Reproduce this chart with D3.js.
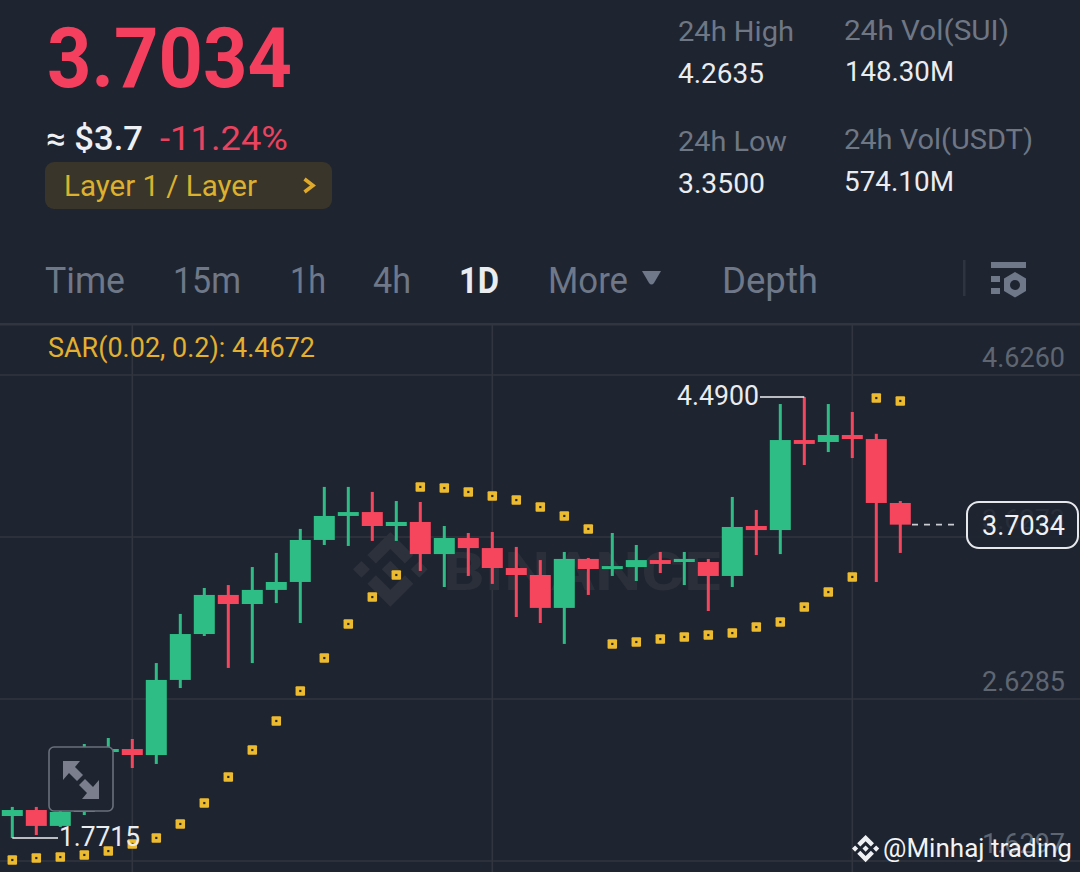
<!DOCTYPE html>
<html><head><meta charset="utf-8">
<script src="https://cdn.jsdelivr.net/npm/d3@7/dist/d3.min.js"></script>
<style>html,body{margin:0;padding:0;background:#1e2430;overflow:hidden}svg{display:block}text{font-family:Roboto,"Noto Sans",sans-serif}</style>
</head><body><svg id="c" width="1080" height="872"></svg>
<script>
const opens=[1.907,1.944,1.846,1.932,2.302,2.320,2.283,2.746,3.029,3.270,3.214,3.301,3.350,3.609,3.757,3.781,3.695,3.720,3.522,3.621,3.559,3.436,3.393,3.190,3.492,3.430,3.442,3.485,3.473,3.473,3.387,3.695,3.670,4.225,4.213,4.256,4.231,3.837];
const highs=[1.963,1.963,1.957,2.351,2.388,2.382,2.850,3.153,3.313,3.331,3.442,3.529,3.677,3.936,3.936,3.905,3.849,3.843,3.695,3.652,3.658,3.566,3.485,3.535,3.498,3.652,3.578,3.535,3.535,3.492,3.874,3.794,4.447,4.490,4.447,4.398,4.2635,3.849];
const lows=[1.7715,1.790,1.840,1.913,2.252,2.203,2.228,2.696,3.017,2.820,2.850,3.220,3.097,3.578,3.572,3.603,3.603,3.418,3.319,3.387,3.338,3.134,3.097,2.968,3.270,3.387,3.356,3.405,3.331,3.171,3.319,3.516,3.522,4.071,4.151,4.114,3.350,3.529];
const closes=[1.944,1.846,1.932,2.302,2.320,2.283,2.746,3.029,3.270,3.214,3.301,3.350,3.609,3.757,3.781,3.695,3.720,3.522,3.621,3.559,3.436,3.393,3.190,3.492,3.430,3.448,3.485,3.461,3.492,3.387,3.689,3.670,4.225,4.201,4.256,4.231,3.837,3.7034];
const sar=[1.636,1.648,1.654,1.667,1.691,1.735,1.772,1.858,1.987,2.148,2.314,2.493,2.678,2.881,3.091,3.257,3.393,3.936,3.929,3.905,3.880,3.855,3.812,3.757,3.677,2.968,2.980,2.998,3.011,3.023,3.035,3.072,3.103,3.196,3.288,3.381,4.484,4.466];
const priceTicks=[4.6260,3.6273,2.6285,1.6297];
const timeGrid=[5,20,35];
const tabs=[["Time",45,80,"#6f7888",400],["15m",173,68,"#6f7888",400],["1h",290,36,"#6f7888",400],["4h",373,38,"#6f7888",400],["1D",459,40,"#eaecef",700],["More",548,80,"#6f7888",400],["Depth",722,96,"#6f7888",400]];

const BG="#1e2430",GREEN="#2ebd85",RED="#f6465d",GRID="#30353f",YEL="#ecbb30";
const svg=d3.select("#c");
const x=d3.scaleLinear().domain([0,37]).range([12.3,900.3]);
const y=d3.scaleLinear().domain([4.6260,1.6297]).range([375,861]);

function t(s,xp,yb,size,fill,w,len){
  const e=svg.append("text").attr("x",xp).attr("y",yb).attr("font-size",size).attr("fill",fill).attr("font-weight",w||400).text(s);
  if(len) e.attr("textLength",len).attr("lengthAdjust","spacingAndGlyphs");
  return e;
}
svg.append("rect").attr("width",1080).attr("height",872).attr("fill",BG);

// header
t("3.7034",47,87,84,"#f4405e",700,245);
t("≈ $3.7",46,150,33,"#eef0f3",500,97);
t("-11.24%",160,150,33,"#e8435f",400,128);
svg.append("rect").attr("x",45).attr("y",162).attr("width",287).attr("height",47).attr("rx",9).attr("fill","#39352a");
t("Layer 1 / Layer",64,196,29,"#dcb12e",400,193);
svg.append("path").attr("d","M304.5 179 L313 185.5 L304.5 192").attr("fill","none").attr("stroke","#dfa92a").attr("stroke-width",3.6);
t("24h High",678,41,28,"#6f7785",400,116);
t("4.2635",678,83,28,"#eaecef",400,86);
t("24h Low",678,151,28,"#6f7785",400,109);
t("3.3500",678,193,28,"#eaecef",400,87);
t("24h Vol(SUI)",844,40,28,"#6f7785",400,165);
t("148.30M",845,81,28,"#eaecef",400,109);
t("24h Vol(USDT)",844,149,28,"#6f7785",400,189);
t("574.10M",844,191,28,"#eaecef",400,110);

// tabs
tabs.forEach(d=>t(d[0],d[1],293,36,d[3],d[4],d[2]));
svg.append("path").attr("d","M642 271 H661 L654 283 Q651.5 286 649 283 Z").attr("fill","#6f7888");
svg.append("rect").attr("x",963).attr("y",260).attr("width",2.5).attr("height",36).attr("fill","#2f3540");
const ic=svg.append("g").attr("fill","#6f7888");
ic.append("rect").attr("x",991).attr("y",262).attr("width",35).attr("height",6);
ic.append("rect").attr("x",991).attr("y",276).attr("width",9).attr("height",6);
ic.append("rect").attr("x",991).attr("y",288).attr("width",9).attr("height",6);
ic.append("path").attr("d","M1015 272 L1026 278.5 V291 L1015 297.5 L1004 291 V278.5 Z");
svg.append("circle").attr("cx",1015).attr("cy",285).attr("r",5).attr("fill",BG);
svg.append("rect").attr("x",0).attr("y",323).attr("width",1080).attr("height",2.5).attr("fill",GRID);

// grid
svg.append("g").selectAll("line").data(priceTicks).join("line")
  .attr("x1",0).attr("x2",1080).attr("y1",d=>y(d)).attr("y2",d=>y(d)).attr("stroke",GRID).attr("stroke-width",1.6);
svg.append("g").selectAll("line").data(timeGrid).join("line")
  .attr("x1",d=>x(d)).attr("x2",d=>x(d)).attr("y1",325).attr("y2",872).attr("stroke",GRID).attr("stroke-width",1.6);

// watermark
const LOGO="M38.73 53.2l24.59-24.58 24.6 24.6 14.3-14.31L63.32 0 24.43 38.9zM0 63.31l14.3-14.31 14.31 14.31-14.31 14.3zM38.73 73.41l24.59 24.59 24.6-24.6 14.31 14.29-38.9 38.91-38.91-38.88-.02-.02zM98 63.31l14.3-14.31 14.31 14.3-14.31 14.32zM77.83 63.3L63.32 48.78 52.59 59.51l-1.24 1.23-2.54 2.54 14.51 14.5 14.51-14.47z";
svg.append("path").attr("d",LOGO).attr("transform","translate(353,532) scale(0.59)").attr("fill","#2c313c");
t("BINANCE",443,590,54,"#2a2f3a",700,278);

// axis labels
const axis=d3.axisLeft(y).tickValues(priceTicks).tickFormat(d3.format(".4f")).tickSize(0).tickPadding(0);
const ag=svg.append("g").attr("transform","translate(1065,0)").call(axis);
ag.select(".domain").remove();
ag.selectAll("text").attr("y",-19).attr("dy","0.36em").attr("font-size",28).attr("fill","#5f6672")
  .attr("textLength",83).attr("lengthAdjust","spacingAndGlyphs").style("font-family","Roboto,sans-serif");

// candles
const idx=d3.range(opens.length);
const cg=svg.append("g");
cg.selectAll("rect.w").data(idx).join("rect").attr("class","w")
  .attr("x",i=>x(i)-1.5).attr("width",3)
  .attr("y",i=>y(highs[i])).attr("height",i=>y(lows[i])-y(highs[i]))
  .attr("fill",i=>closes[i]>=opens[i]?GREEN:RED);
cg.selectAll("rect.b").data(idx).join("rect").attr("class","b")
  .attr("x",i=>x(i)-10.5).attr("width",21)
  .attr("y",i=>y(Math.max(opens[i],closes[i])))
  .attr("height",i=>Math.max(3,Math.abs(y(opens[i])-y(closes[i]))))
  .attr("fill",i=>closes[i]>=opens[i]?GREEN:RED);

// SAR
const sg=svg.append("g");
sg.selectAll("rect.s").data(idx).join("rect").attr("class","s")
  .attr("x",i=>x(i)-4.75).attr("y",i=>y(sar[i])-4.75).attr("width",9.5).attr("height",9.5).attr("rx",1).attr("fill",YEL);
sg.selectAll("rect.h").data(idx).join("rect").attr("class","h")
  .attr("x",i=>x(i)-1.1).attr("y",i=>y(sar[i])-1.1).attr("width",2.2).attr("height",2.2).attr("fill","#2a2a25");

t("SAR(0.02, 0.2): 4.4672",48,357,28,"#e3b02f",400,267);

// hi / lo annotations
svg.append("path").attr("d",`M760 ${y(4.49)}H${x(33)}`).attr("stroke","#eef0f3").attr("stroke-width",1.6);
t("4.4900",677,405,28,"#eaecef",400,82);
svg.append("path").attr("d",`M${x(0)} ${y(1.7715)}H58`).attr("stroke","#eef0f3").attr("stroke-width",1.6);
t("1.7715",59,846,28,"#eaecef",400,81);

// last price
svg.append("path").attr("d",`M912 ${y(3.7034)}H955`).attr("stroke","#c9ccd2").attr("stroke-width",1.6).attr("stroke-dasharray","6 6");
svg.append("rect").attr("x",967).attr("y",502).attr("width",111).attr("height",46).attr("rx",12).attr("fill",BG).attr("fill-opacity",0.85).attr("stroke","#e6e8ec").attr("stroke-width",2);
t("3.7034",982,535,28,"#f0f1f3",400,83);

// expand button
svg.append("rect").attr("x",49).attr("y",747).attr("width",64).attr("height",64).attr("rx",5).attr("fill",BG).attr("stroke","#6a707c").attr("stroke-width",1.6);
svg.append("path").attr("fill","#7b7f8d").attr("d","M63 761 H80 L75 767 L83 775 L77 781 L69 773 L63 780 Z M99 799 H82 L87 793 L79 785 L85 779 L93 787 L99 780 Z");

// footer watermark
svg.append("path").attr("d",LOGO).attr("transform","translate(852,835) scale(0.215)").attr("fill","#eef0f3");
t("@Minhaj trading",883,857,26,"#f2f3f5",400,189);
</script></body></html>
